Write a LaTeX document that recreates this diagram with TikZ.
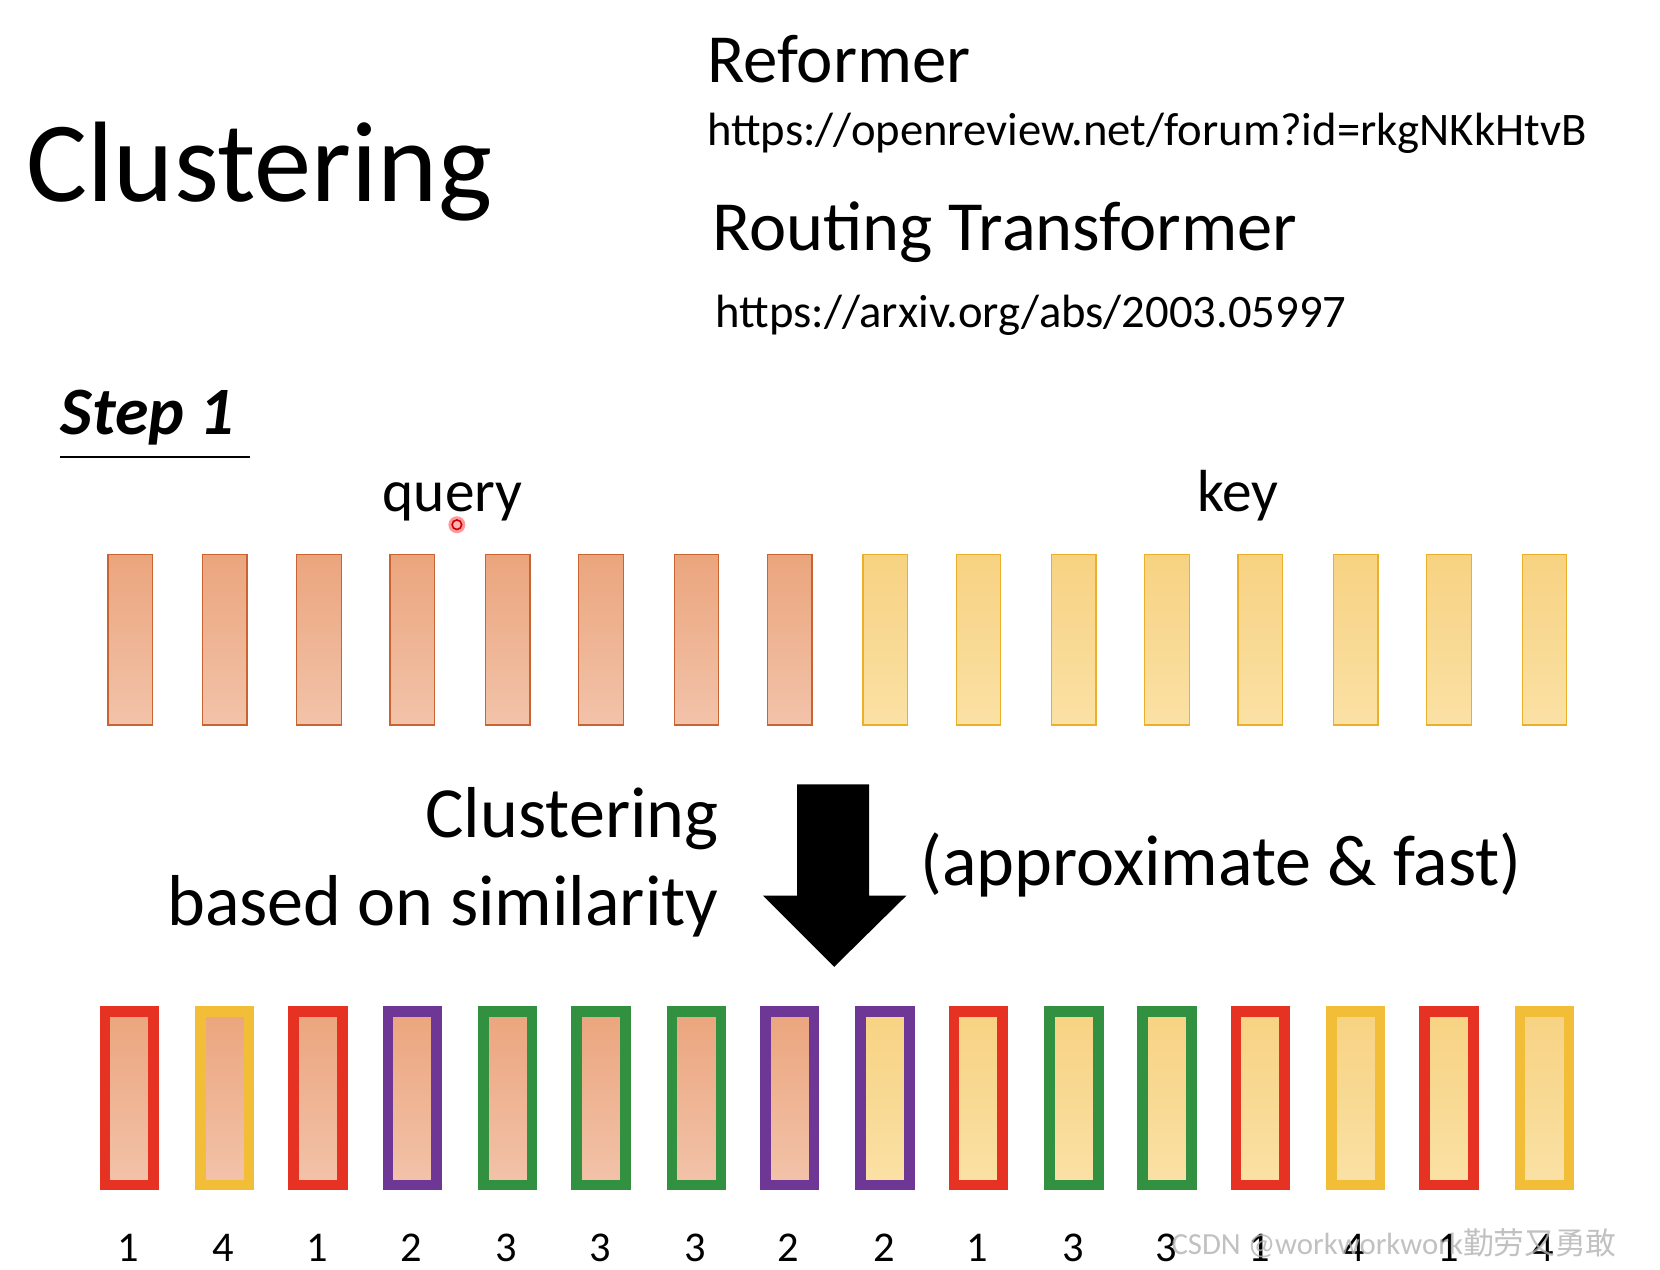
\documentclass[tikz,border=0pt]{standalone}
\usepackage{fontspec}
\setmainfont{Carlito}
\newfontfamily\cjk{Noto Sans CJK SC}
\begin{document}
\begin{tikzpicture}[x=1pt,y=-1pt,
 lbl/.style={anchor=base west,inner sep=0pt}]
\definecolor{qT}{RGB}{235,165,125}
\definecolor{qB}{RGB}{242,195,170}
\definecolor{qD}{RGB}{200,100,50}
\definecolor{kT}{RGB}{247,210,130}
\definecolor{kB}{RGB}{250,225,165}
\definecolor{kD}{RGB}{235,175,40}
\tikzset{qbar/.style={draw=qD,line width=1.2pt,top color=qT,bottom color=qB},
 kbar/.style={draw=kD,line width=1.2pt,top color=kT,bottom color=kB}}
\useasboundingbox[fill=white] (0,0) rectangle (1566,1198);
\node[lbl,font=\fontsize{108}{118}\selectfont] (t) at (25,190) {Clustering};
\node[lbl,font=\fontsize{65}{70}\selectfont] (r) at (667,78) {Reformer};
\node[lbl,font=\fontsize{44}{46}\selectfont] (ru) at (667,137) {https://openreview.net/forum?id=rkgNKkHtvB};
\node[lbl,font=\fontsize{66.5}{70}\selectfont] (rt) at (672,236) {Routing Transformer};
\node[lbl,font=\fontsize{44}{46}\selectfont] (au) at (675,309) {https://arxiv.org/abs/2003.05997};
\node[lbl,font=\fontsize{64}{66}\selectfont\bfseries\itshape] (s) at (57,410) {Step 1};
\draw[line width=1.5pt] (57,431) -- (236,431);
\node[font=\fontsize{56}{60}\selectfont,anchor=base] (q) at (427,483) {query};
\node[font=\fontsize{56}{60}\selectfont,anchor=base] (k) at (1168,483) {key};
\fill[red!80,opacity=0.5] (431,495) circle (8);
\draw[red!80!black,fill=red!30,line width=1.5pt] (431,495) circle (4.5);
\foreach \x [count=\i] in {102,191,280,368,458,546,636,724}
  \node[qbar,minimum width=42pt,minimum height=161pt,inner sep=0pt,outer sep=0pt,anchor=north west] (q\i) at (\x,523) {};
\foreach \x [count=\i] in {814,902,992,1080,1168,1258,1346,1436}
  \node[kbar,minimum width=42pt,minimum height=161pt,inner sep=0pt,outer sep=0pt,anchor=north west] (k\i) at (\x,523) {};
\node[font=\fontsize{68}{70}\selectfont,anchor=base east,inner sep=0pt] (c1) at (678,790) {Clustering};
\node[font=\fontsize{68}{70}\selectfont,anchor=base east,inner sep=0pt] (c2) at (678,873) {based on similarity};
\node[lbl,font=\fontsize{68}{70}\selectfont] (c3) at (868,835) {(approximate \& fast)};
\fill (752,740) -- (820,740) -- (820,845) -- (855,845) -- (787,912) -- (720,845) -- (752,845) -- cycle;
\definecolor{cR}{RGB}{230,50,35}
\definecolor{cY}{RGB}{242,190,55}
\definecolor{cP}{RGB}{110,55,150}
\definecolor{cG}{RGB}{50,145,65}
\foreach \x/\c/\n [count=\i] in {94/cR/1,184/cY/4,272/cR/1,361/cP/2,451/cG/3,539/cG/3,629/cG/3,717/cP/2,807/cP/2,895/cR/1,985/cG/3,1073/cG/3,1161/cR/1,1251/cY/4,1339/cR/1,1429/cY/4}{
  \ifnum\i<9
    \node[draw=\c,line width=10pt,top color=qT,bottom color=qB,minimum width=46pt,minimum height=164pt,inner sep=0pt,anchor=north west] (b\i) at (\x,949) {};
  \else
    \node[draw=\c,line width=10pt,top color=kT,bottom color=kB,minimum width=46pt,minimum height=164pt,inner sep=0pt,anchor=north west] (b\i) at (\x,949) {};
  \fi
  \node[font=\fontsize{40}{46}\selectfont,anchor=base] (n\i) at (\x+27,1190) {\n};
}
\node[lbl,font=\fontsize{29}{32}\selectfont,text=gray!60,opacity=0.8] (w) at (1105,1183) {CSDN @workworkwork{\cjk 勤劳又勇敢}};
\end{tikzpicture}
\end{document}
